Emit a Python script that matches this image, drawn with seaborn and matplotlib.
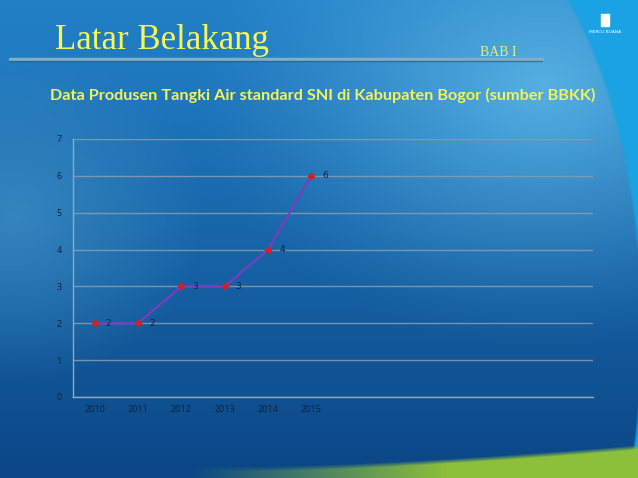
import numpy as np
import matplotlib
matplotlib.use("Agg")
import matplotlib.pyplot as plt
import seaborn as sns
import pandas as pd

years = ["2010", "2011", "2012", "2013", "2014", "2015"]
producers = [2, 2, 3, 3, 4, 6]
n_slots = 12
title = "Latar Belakang"
chapter = "BAB I"
subtitle = "Data Produsen Tangki Air standard SNI di Kabupaten Bogor (sumber BBKK)"

sns.set_theme(style="white")
W, H = 638, 478
fig = plt.figure(figsize=(W / 100, H / 100), dpi=100)

# ---- background slide ----
yy, xx = np.mgrid[0:H, 0:W].astype(float)
xn = xx / W
yn = yy / H
top = np.array([0x22, 0x80, 0xc6]) / 255
bottom = np.array([0x0b, 0x46, 0x86]) / 255
tv = np.clip(yn, 0, 1)[..., None] ** 1.1
img = top * (1 - tv) + bottom * tv
# upper-right light glow
light = np.array([0x5c, 0xb6, 0xe6]) / 255
d = np.sqrt(((xn - 0.85) / 0.55) ** 2 + ((yn - 0.18) / 0.55) ** 2)
t = (np.clip(1 - d, 0, 1) ** 1.3 * 0.9)[..., None]
img = img * (1 - t) + light * t
# left-middle teal glow
teal = np.array([0x3c, 0x8c, 0xc2]) / 255
d2 = np.sqrt(((xn - 0.02) / 0.3) ** 2 + ((yn - 0.45) / 0.35) ** 2)
t2 = (np.clip(1 - d2, 0, 1) * 0.8)[..., None]
img = img * (1 - t2) + teal * t2
# right cyan band outside an ellipse (right side only)
e = ((xx - 443) / 197) ** 2 + ((yy - 330) / 420) ** 2
cyan = np.array([0x1a, 0xa2, 0xe2]) / 255
band = (np.clip((e - 1.0) / 0.03, 0, 1) * (xx > 443))[..., None]
img = img * (1 - band) + cyan * band
# bottom green strip
curve = 0.975 - 0.045 * np.clip((xn - 0.4) / 0.6, 0, 1) ** 1.5
green_w = np.clip((yn - curve) / 0.01, 0, 1) * np.clip((xn - 0.3) / 0.4, 0, 1)
green = np.array([0x8c, 0xc0, 0x3a]) / 255
img = img * (1 - green_w[..., None]) + green * green_w[..., None]

bg = fig.add_axes([0, 0, 1, 1])
bg.imshow(np.clip(img, 0, 1), aspect="auto", extent=[0, W, H, 0])
bg.set_xlim(0, W)
bg.set_ylim(H, 0)
bg.axis("off")

# header
bg.text(55, 40, title, fontsize=25, family="Liberation Serif", color="#f4f75a", va="center", ha="left")
bg.plot([10, 542], [58.5, 58.5], color="#7fb0c8", lw=2.5, solid_capstyle="round")
bg.plot([10, 542], [60.5, 60.5], color="#1d4f78", lw=1, alpha=0.6)
bg.text(480, 52, chapter, fontsize=10, family="Liberation Serif", color="#e8ef70", va="center", ha="left")
sub = bg.text(50, 95, subtitle, fontsize=12.5, family="Lato", weight="bold",
              color="#f2f25a", va="center", ha="left")
fig.canvas.draw()
w = sub.get_window_extent().width
sub.set_fontsize(12.5 * 548 / w)
# logo
bg.text(605, 32, "MERCU BUANA", fontsize=3.2, color="white", ha="center", va="center")
bg.add_patch(plt.Rectangle((601, 14), 8, 12, color="white"))

# ---- chart ----
ax = fig.add_axes([73 / W, 1 - 397 / H, (593 - 73) / W, (397 - 139) / H])
ax.patch.set_alpha(0)
df = pd.DataFrame({"pos": np.arange(len(years)), "val": producers})
sns.lineplot(data=df, x="pos", y="val", ax=ax, color="#7a3cc0", lw=1.6,
             marker="D", markersize=3.5, markerfacecolor="#d0202a",
             markeredgecolor="#d0202a")
for p, v in zip(df["pos"], df["val"]):
    ax.annotate(str(v), (p, v), xytext=(8, 0), textcoords="offset points",
                fontsize=6.5, color="#102040", va="center", ha="left")
ax.set_xlim(-0.5, n_slots - 0.5)
ax.set_ylim(0, 7)
ax.set_xticks(range(len(years)))
ax.set_xticklabels(years)
ax.set_xticks(np.arange(-0.5, n_slots, 1), minor=True)
ax.set_yticks(range(0, 8))
ax.tick_params(axis="x", which="major", length=0, pad=6, labelsize=6.5, labelcolor="#0d1f3c")
ax.tick_params(axis="x", which="minor", length=3, color="#8fa9c0", direction="out")
ax.tick_params(axis="y", length=3, color="#8fa9c0", labelsize=6.5, labelcolor="#0d1f3c", pad=5)
for lab in ax.get_xticklabels() + ax.get_yticklabels():
    lab.set_family("Open Sans")
ax.grid(axis="y", color="#8e9cab", lw=1, alpha=0.85)
ax.set_axisbelow(True)
for s in ["top", "right"]:
    ax.spines[s].set_visible(False)
for s in ["left", "bottom"]:
    ax.spines[s].set_color("#8fa9c0")
    ax.spines[s].set_linewidth(1)
ax.set_xlabel("")
ax.set_ylabel("")

fig.savefig("out.png", dpi=100)
